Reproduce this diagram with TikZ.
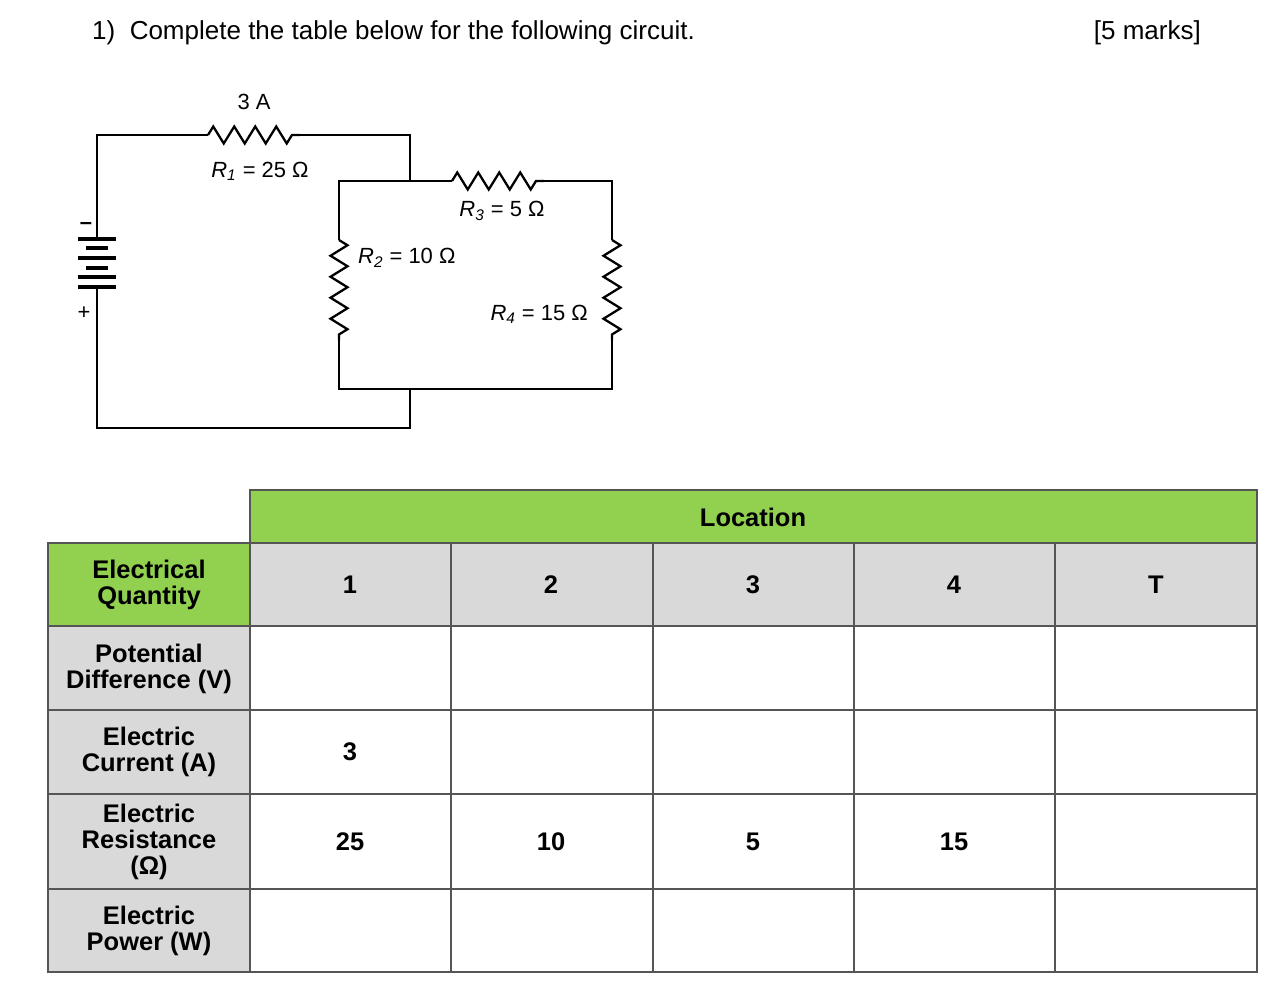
\documentclass[tikz,border=0pt]{standalone}
\usepackage{fontspec}
\setmainfont{Liberation Sans}
\usetikzlibrary{decorations.pathmorphing}
\definecolor{lgreen}{HTML}{92D050}
\definecolor{lgray}{HTML}{D9D9D9}
\definecolor{bord}{HTML}{555555}
\begin{document}
\begin{tikzpicture}[x=0.02cm,y=-0.02cm,
  wire/.style={line width=1.3pt},
  res/.style={line width=1.3pt,decorate,decoration={zigzag,segment length=0.42cm,amplitude=0.17cm}},
  lbl/.style={font=\fontsize{12.5}{14}\selectfont},
  hdr/.style={font=\fontsize{14.5}{17}\selectfont\bfseries,align=center},
  cell/.style={font=\fontsize{14.5}{17}\selectfont\bfseries}]
\useasboundingbox (0,0) rectangle (1288,997);
\node[anchor=west,font=\fontsize{14.8}{17}\selectfont] (title) at (86,33) {1)\ \ Complete the table below for the following circuit.};
\node[anchor=east,font=\fontsize{14.8}{17}\selectfont] (marks) at (1207,33) {[5 marks]};
% circuit
\coordinate (r1a) at (208,135); \coordinate (r1b) at (300,135);
\coordinate (r3a) at (452,181); \coordinate (r3b) at (544,181);
\coordinate (r2a) at (339,240); \coordinate (r2b) at (339,340);
\coordinate (r4a) at (612,240); \coordinate (r4b) at (612,340);
\draw[wire] (97,239) -- (97,135) -- (r1a);
\draw[res] (r1a) -- (r1b);
\draw[wire] (r1b) -- (410,135) -- (410,181);
\draw[wire] (r2a) -- (339,181) -- (r3a);
\draw[res] (r3a) -- (r3b);
\draw[wire] (r3b) -- (612,181) -- (r4a);
\draw[res] (r4a) -- (r4b);
\draw[res] (r2a) -- (r2b);
\draw[wire] (r2b) -- (339,389) -- (612,389) -- (r4b);
\draw[wire] (410,389) -- (410,428) -- (97,428) -- (97,287);
\foreach \y/\w in {239/19,248/11,258/19,268/11,277/19,287/19}
  \draw[line width=2pt] (97-\w,\y) -- (97+\w,\y);
\node[lbl] (minus) at (86,226) {\bfseries –};
\node[lbl] (plus) at (84,313) {+};
\node[lbl] (cur) at (254,102) {3 A};
\node[lbl] (l1) at (260,171) {\itshape R\textsubscript{1}\upshape\ = 25 Ω};
\node[lbl] (l3) at (502,211) {\itshape R\textsubscript{3}\upshape\ = 5 Ω};
\node[lbl,anchor=west] (l2) at (352,258) {\itshape R\textsubscript{2}\upshape\ = 10 Ω};
\node[lbl,anchor=east] (l4) at (594,314) {\itshape R\textsubscript{4}\upshape\ = 15 Ω};
% table fills
\fill[lgreen] (250,490) rectangle (1257,543);
\fill[lgreen] (48,543) rectangle (250,626);
\fill[lgray] (250,543) rectangle (1257,626);
\fill[lgray] (48,626) rectangle (250,972);
\draw[bord,line width=0.8pt] (250,490) rectangle (1257,972);
\draw[bord,line width=0.8pt] (48,543) rectangle (250,972);
\foreach \x in {451,653,854,1055} \draw[bord,line width=0.8pt] (\x,543) -- (\x,972);
\foreach \y in {543,626,710,794,889} \draw[bord,line width=0.8pt] (48,\y) -- (1257,\y);
\node[hdr] (loc) at (753,517) {Location};
\node[hdr] (eq) at (149,585) {Electrical\\[-2pt]Quantity};
\node[hdr] (pd) at (149,669) {Potential\\[-2pt]Difference (V)};
\node[hdr] (ec) at (149,752) {Electric\\[-2pt]Current (A)};
\node[hdr] (er) at (149,842) {Electric\\[-2pt]Resistance\\[-2pt](Ω)};
\node[hdr] (ep) at (149,931) {Electric\\[-2pt]Power (W)};
\foreach \x/\t in {350/1,551/2,753/3,954/4,1156/T} \node[cell] at (\x,585) {\t};
\node[cell] (i1) at (350,752) {3};
\foreach \x/\t in {350/25,551/10,753/5,954/15} \node[cell] at (\x,842) {\t};
\end{tikzpicture}
\end{document}
